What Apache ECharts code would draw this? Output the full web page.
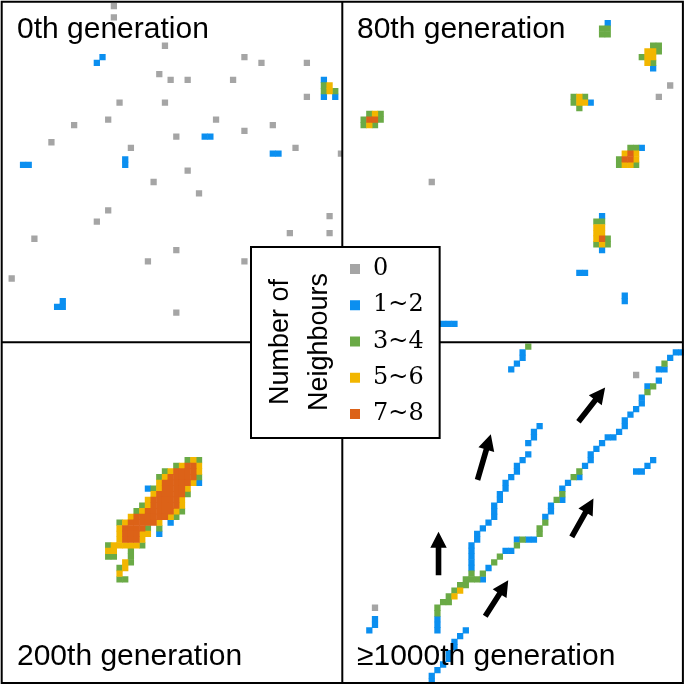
<!DOCTYPE html>
<html><head><meta charset="utf-8">
<script src="https://cdn.jsdelivr.net/npm/echarts@6/dist/echarts.min.js"></script>
<style>html,body{margin:0;padding:0;background:#fff}#c{width:685px;height:685px}</style>
</head><body><div id="c"></div>
<script>
// ---------- data (cell column, cell row) ----------
const legendNames = ['0', '1~2', '3~4', '5~6', '7~8'];
const panelTitles = ['0th generation', '80th generation', '200th generation', '≥1000th generation'];

// 0th generation
const gen0_n0 = [[19,0],[19,2],[28,7],[42,9],[45,10],[53,10],[27,12],[29,13],[32,13],[40,13],[53,16],[20,17],[28,17],[18,20],[37,20],[12,21],[47,21],[42,22],[30,23],[8,24],[22,25],[51,25],[59,26],[32,29],[26,31],[34,33],[18,36],[57,37],[16,38],[50,40],[57,40],[5,41],[30,43],[25,45],[42,45],[1,48],[30,54]];
const gen0_n12 = [[17,9],[16,10],[56,13],[56,16],[58,16],[35,23],[36,23],[47,26],[48,26],[21,27],[21,28],[3,28],[4,28],[10,52],[9,53],[10,53]];
const gen0_n34 = [[56,14],[56,15],[58,15]];
const gen0_n56 = [[57,14],[57,15]];
const gen0_n78 = [];

// 80th generation
const gen80_n0 = [[57,14],[55,16],[15,31]];
const gen80_n12 = [[46,3],[54,11],[43,17],[52,25],[45,37],[45,43],[41,47],[42,47],[49,51],[49,52],[17,56],[18,56],[19,56]];
const gen80_n34 = [[45,4],[46,4],[45,5],[46,5],[54,7],[55,7],[55,8],[52,9],[54,10],[40,16],[42,16],[40,17],[41,18],[4,19],[6,19],[3,20],[6,20],[3,21],[5,21],[50,25],[51,25],[48,27],[48,28],[51,28],[44,38],[45,38],[46,41],[44,42],[46,42]];
const gen80_n56 = [[53,8],[54,8],[53,9],[54,9],[53,10],[41,16],[41,17],[42,17],[5,19],[4,21],[49,26],[51,26],[51,27],[49,28],[50,28],[44,39],[45,39],[44,40],[45,40],[44,41],[45,42]];
const gen80_n78 = [[4,20],[5,20],[50,26],[49,27],[50,27],[45,41]];

// 200th generation
const gen200_n0 = [];
const gen200_n12 = [[34,24],[25,25],[29,31],[27,33]];
const gen200_n34 = [[32,20],[34,20],[30,21],[28,22],[27,23],[34,23],[26,25],[32,26],[24,28],[23,29],[31,29],[30,30],[20,31],[25,32],[27,32],[18,35],[24,35],[22,36],[18,37],[19,37],[22,37],[22,38],[20,39],[20,41],[21,41]];
const gen200_n56 = [[33,20],[31,21],[34,21],[29,22],[34,22],[28,23],[27,24],[33,24],[27,25],[32,25],[26,26],[25,27],[31,27],[25,28],[31,28],[24,29],[30,29],[22,30],[29,30],[21,31],[27,31],[20,32],[20,33],[24,33],[25,33],[20,34],[24,34],[19,35],[20,35],[21,35],[22,35],[23,35],[18,36],[19,36],[21,38],[21,39],[20,40]];
const gen200_n78 = [[32,21],[33,21],[30,22],[31,22],[32,22],[33,22],[29,23],[30,23],[31,23],[32,23],[33,23],[28,24],[29,24],[30,24],[31,24],[32,24],[28,25],[29,25],[30,25],[31,25],[27,26],[28,26],[29,26],[30,26],[31,26],[26,27],[27,27],[28,27],[29,27],[30,27],[26,28],[27,28],[28,28],[29,28],[30,28],[25,29],[26,29],[27,29],[28,29],[29,29],[23,30],[24,30],[25,30],[26,30],[27,30],[28,30],[22,31],[23,31],[24,31],[25,31],[26,31],[21,32],[22,32],[23,32],[24,32],[21,33],[22,33],[23,33],[21,34],[22,34],[23,34]];

// >=1000th generation
const gen1000_n0 = [[51,5],[5,46]];
const gen1000_n12 = [[58,1],[59,1],[57,2],[55,4],[56,4],[55,6],[53,7],[52,9],[52,10],[51,11],[50,12],[49,13],[49,14],[48,15],[46,16],[47,16],[45,17],[44,18],[43,19],[43,20],[42,21],[41,23],[39,24],[38,25],[38,27],[36,28],[36,29],[35,30],[32,34],[33,34],[30,34],[29,36],[28,36],[25,39],[24,41],
  [31,1],[31,2],[30,3],[29,4],[34,14],[33,15],[33,16],[32,17],[32,19],[31,20],[30,21],[30,22],[29,23],[28,24],[28,25],[27,26],[27,27],[26,28],[26,29],[26,30],[25,31],[24,32],[23,33],[23,34],[22,35],[22,36],[22,37],[22,38],[22,39],
  [16,48],[16,49],[16,50],[21,50],[20,51],[19,52],[19,53],[18,54],[18,55],[17,56],[16,57],[15,58],[15,59],
  [54,20],[53,21],[51,22],[52,22],[5,48],[5,49],[4,50]];
const gen1000_n34 = [[32,0],[56,3],[54,7],[53,8],[41,22],[40,23],[38,26],[37,27],[35,31],[34,32],[34,33],[31,34],[30,35],[27,37],[26,38],[24,40],[22,40],[21,41],[22,41],[23,41],[20,42],[21,42],[19,43],[18,44],[17,45],[18,45],[16,46],[16,47]];
const gen1000_n56 = [[20,43],[19,44]];
const gen1000_n78 = [];

// direction arrows in the last panel: [tailX, tailY, headX, headY] in cell units
const arrows = [[23.06,23.47,25.40,15.44],[40.84,13.25,45.54,7.22],[16.19,40.26,16.19,32.62],[24.42,47.48,28.47,41.14],[39.66,33.50,43.48,26.76]];

// ---------- chart ----------
const colors = ['#a5a5a5', '#0b8ff0', '#6aaa46', '#f2b600', '#dc6218'];
const panels = [
  [gen0_n0, gen0_n12, gen0_n34, gen0_n56, gen0_n78],
  [gen80_n0, gen80_n12, gen80_n34, gen80_n56, gen80_n78],
  [gen200_n0, gen200_n12, gen200_n34, gen200_n56, gen200_n78],
  [gen1000_n0, gen1000_n12, gen1000_n34, gen1000_n56, gen1000_n78]
];
const L0 = 1.7, L1 = 342.3, SZ = 340.6;
const gridPos = [[L0, L0], [L1, L0], [L0, L1], [L1, L1]];
const AMIN = -0.76, AMAX = 59.24;
const SEAM = 0.3;

function renderCell(params, api) {
  const x = api.value(0), y = api.value(1);
  const a = api.coord([x - 0.5, y - 0.5]);
  const b = api.coord([x + 0.5, y + 0.5]);
  return {
    type: 'rect',
    shape: { x: Math.min(a[0], b[0]) - SEAM, y: Math.min(a[1], b[1]) - SEAM,
             width: Math.abs(b[0] - a[0]) + 2 * SEAM, height: Math.abs(b[1] - a[1]) + 2 * SEAM },
    style: { fill: api.visual('color') }
  };
}
function renderArrow(params, api) {
  const p = api.coord([api.value(0), api.value(1)]);
  const q = api.coord([api.value(2), api.value(3)]);
  const dx = q[0] - p[0], dy = q[1] - p[1];
  const len = Math.sqrt(dx * dx + dy * dy);
  const ux = dx / len, uy = dy / len, nx = -uy, ny = ux;
  const hw = 2.8, headW = 8.2, headL = 16;
  const bx = q[0] - ux * headL, by = q[1] - uy * headL;
  const pts = [
    [p[0] + nx * hw, p[1] + ny * hw], [bx + nx * hw, by + ny * hw], [bx + nx * headW, by + ny * headW],
    [q[0], q[1]],
    [bx - nx * headW, by - ny * headW], [bx - nx * hw, by - ny * hw], [p[0] - nx * hw, p[1] - ny * hw]
  ];
  return { type: 'polygon', shape: { points: pts }, style: { fill: '#000' } };
}

const grid = [], xAxis = [], yAxis = [], series = [];
gridPos.forEach((g, k) => {
  grid.push({ left: g[0], top: g[1], width: SZ, height: SZ, show: false });
  xAxis.push({ type: 'value', gridIndex: k, min: AMIN, max: AMAX, show: false });
  yAxis.push({ type: 'value', gridIndex: k, min: AMIN, max: AMAX, inverse: true, show: false });
  panels[k].forEach((data, c) => {
    series.push({
      type: 'custom', name: legendNames[c], xAxisIndex: k, yAxisIndex: k,
      itemStyle: { color: colors[c] }, data: data, renderItem: renderCell,
      encode: { x: 0, y: 1 }, clip: true, silent: true, animation: false
    });
  });
});
series.push({
  type: 'custom', name: 'arrows', xAxisIndex: 3, yAxisIndex: 3, data: arrows,
  renderItem: renderArrow, encode: { x: [0, 2], y: [1, 3] }, silent: true, animation: false, z: 5
});

const titleFont = '30px "Liberation Sans", Arial, sans-serif';
const titleXY = [[17, 30], [357, 30], [17, 657], [357, 657]];
const graphic = [
  { type: 'rect', z: 10, shape: { x: L0, y: L0, width: 2 * SZ, height: 2 * SZ }, style: { fill: 'none', stroke: '#000', lineWidth: 2 } },
  { type: 'line', z: 10, shape: { x1: L1, y1: L0, x2: L1, y2: L0 + 2 * SZ }, style: { stroke: '#000', lineWidth: 2 } },
  { type: 'line', z: 10, shape: { x1: L0, y1: L1, x2: L0 + 2 * SZ, y2: L1 }, style: { stroke: '#000', lineWidth: 2 } },
  { type: 'text', z: 30, x: 300, y: 342, rotation: Math.PI / 2,
    style: { text: 'Number of\nNeighbours', font: '27px "Liberation Sans", Arial, sans-serif', fill: '#000', align: 'center', verticalAlign: 'middle', lineHeight: 39 } }
];
panelTitles.forEach((t, k) => {
  graphic.push({ type: 'text', z: 30, x: titleXY[k][0], y: titleXY[k][1],
    style: { text: t, font: titleFont, fill: '#000', align: 'left', verticalAlign: 'middle' } });
});

const chart = echarts.init(document.getElementById('c'), null, { renderer: 'canvas' });
chart.setOption({
  animation: false,
  backgroundColor: '#fff',
  grid, xAxis, yAxis, series, graphic,
  legend: {
    data: legendNames, orient: 'vertical', left: 251, top: 247, padding: [10, 16, 12, 99],
    itemWidth: 10, itemHeight: 10, itemGap: 12.25, icon: 'rect', selectedMode: false,
    backgroundColor: '#fff', borderColor: '#000', borderWidth: 2, borderRadius: 0, z: 20,
    textStyle: { fontFamily: '"DejaVu Serif", serif', fontSize: 24, color: '#000', padding: [0, 0, 0, 8] }
  }
});
</script></body></html>
